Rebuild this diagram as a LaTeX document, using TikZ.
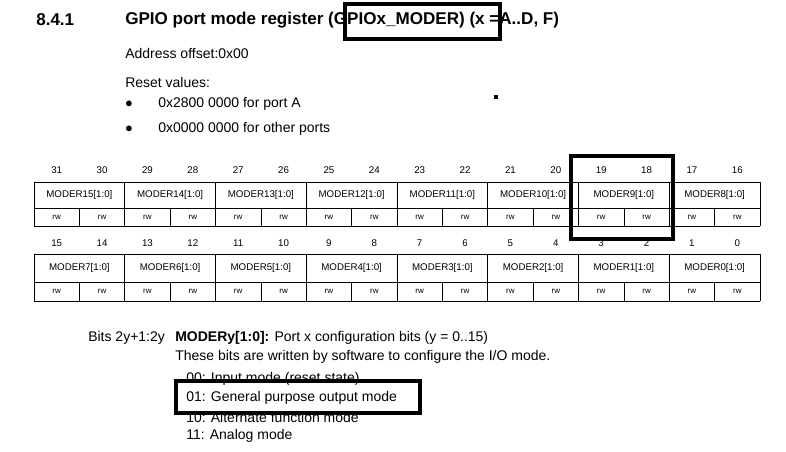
\documentclass[tikz,border=0pt]{standalone}
\usepackage{fontspec}
\setmainfont{Liberation Sans}
\begin{document}
\begin{tikzpicture}[x=0.75pt,y=-0.75pt,
  txt/.style={anchor=west,inner sep=0pt,font=\fontsize{10.5}{12}\selectfont},
  ttl/.style={anchor=west,inner sep=0pt,font=\bfseries\fontsize{12.8}{14}\selectfont},
  fld/.style={inner sep=0pt,font=\fontsize{7.3}{8}\selectfont},
  rwl/.style={inner sep=0pt,font=\fontsize{6}{7}\selectfont},
  num/.style={inner sep=0pt,font=\fontsize{7.3}{8}\selectfont},
  cell/.style={draw=black,line width=0.5pt},
  hl/.style={draw=black,line width=3pt}]
\useasboundingbox (0,0) rectangle (786,451);
\node[ttl] (sec) at (36,20) {8.4.1};
\node[ttl] (title) at (125,20) {GPIO port mode register (GPIOx\_MODER) (x =A..D, F)};
\node[txt] (addr) at (125,53) {Address offset:0x00};
\node[txt] (rv) at (125,82) {Reset values:};
\node[txt] (b1) at (125,104) {$\bullet$};
\node[txt] (l1) at (158,104) {0x2800 0000 for port A};
\node[txt] (b2) at (125,129) {$\bullet$};
\node[txt] (l2) at (158,129) {0x0000 0000 for other ports};
\fill (494,95) rectangle (498,99);
\def\L{34}\def\W{45.375}
\foreach \row/\yn/\yt/\ym/\yb/\base in {0/170/182/208/226/16, 1/243/254/282/301/0}{
  \draw[cell] (\L,\yt) -- (760,\yt) (\L,\ym) -- (760,\ym) (\L,\yb) -- (760,\yb);
  \foreach \i in {0,...,15}{
    \pgfmathsetmacro\xa{\L+\i*\W}
    \pgfmathsetmacro\xc{\xa+\W/2}
    \pgfmathtruncatemacro\bit{\base+15-\i}
    \node[num] at (\xc,\yn) {\bit};
    \node[rwl] at (\xc,{(\ym+\yb)/2}) {rw};
    \draw[cell] (\xa,\ym) -- (\xa,\yb);
  }
  \draw[cell] (760,\yt) -- (760,\yb);
  \foreach \j in {0,...,7}{
    \pgfmathsetmacro\xa{\L+2*\j*\W}
    \pgfmathsetmacro\xc{\xa+\W}
    \pgfmathtruncatemacro\f{\base/2+7-\j}
    \draw[cell] (\xa,\yt) -- (\xa,\ym);
    \node[fld] at (\xc,{(\yt+\ym)/2}) {MODER\f[1:0]};
  }
}
\node[txt] (bits) at (88,338) {Bits 2y+1:2y};
\node[txt] (desc) at (175,338) {\textbf{MODERy[1:0]:} Port x configuration bits (y = 0..15)};
\node[txt] (d2) at (175,357) {These bits are written by software to configure the I/O mode.};
\node[txt] (m0) at (186,379) {00: Input mode (reset state)};
\node[txt] (m1) at (186,398) {01: General purpose output mode};
\node[txt] (m2) at (186,417) {10: Alternate function mode};
\node[txt] (m3) at (186,436) {11: Analog mode};
\draw[hl] (345,4) rectangle (500,39);
\draw[hl] (571,156) rectangle (673,239);
\draw[hl] (176,381) rectangle (420,413);
\end{tikzpicture}
\end{document}
